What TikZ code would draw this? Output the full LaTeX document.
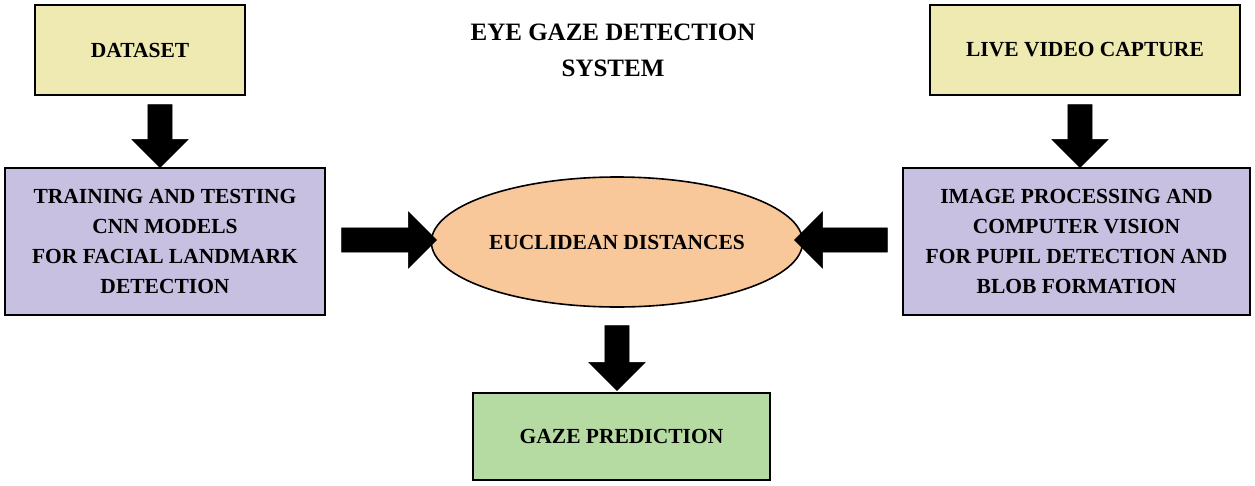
\documentclass[tikz,border=0pt]{standalone}
\usepackage{fontspec}
\setmainfont{Liberation Serif}
\usetikzlibrary{shapes.arrows,shapes.geometric}
\definecolor{ylw}{HTML}{EFEAB2}
\definecolor{lav}{HTML}{C8C0E0}
\definecolor{org}{HTML}{F8C79A}
\definecolor{grn}{HTML}{B6DBA2}
\begin{document}
\begin{tikzpicture}[x=1pt,y=-1pt,
  box/.style={draw=black,line width=1.6pt,align=center,font=\fontsize{21.5}{30}\selectfont\bfseries},
  barrow/.style={single arrow,fill=black,draw=black,inner sep=12pt,minimum width=56pt,single arrow head extend=16pt,single arrow head indent=0pt}]
\useasboundingbox (0,0) rectangle (1255,485);
\node[box,fill=ylw,minimum width=210pt,minimum height=90pt] (ds) at (140,50) {DATASET};
\node[box,fill=ylw,minimum width=310pt,minimum height=90pt] (live) at (1085,50) {LIVE VIDEO CAPTURE};
\node[box,fill=lav,minimum width=320pt,minimum height=147pt] (train) at (165,241.5) {TRAINING AND TESTING\\CNN MODELS\\ FOR FACIAL LANDMARK\\DETECTION};
\node[box,fill=lav,minimum width=347pt,minimum height=147pt] (img) at (1076.5,241.5) {IMAGE PROCESSING AND\\COMPUTER VISION\\FOR PUPIL DETECTION AND\\BLOB FORMATION};
\node[ellipse,box,fill=org,minimum width=360pt,minimum height=130pt] (eu) at (617,242) {EUCLIDEAN DISTANCES};
\node[box,fill=grn,minimum width=297pt,minimum height=87pt] (gz) at (621.5,436.5) {GAZE PREDICTION};
\node[align=center,font=\fontsize{25}{36}\selectfont\bfseries] (title) at (613,50) {EYE GAZE DETECTION\\SYSTEM};
\node[barrow,shape border rotate=270,minimum height=63pt] (a1) at (160,130) {};
\node[barrow,shape border rotate=270,minimum height=63pt] (a2) at (1080,130) {};
\node[barrow,minimum height=95pt] (a3) at (383,240) {};
\node[barrow,shape border rotate=180,minimum height=93pt] (a4) at (847,240) {};
\node[barrow,shape border rotate=270,minimum height=65pt] (a5) at (617,352) {};
\end{tikzpicture}
\end{document}
